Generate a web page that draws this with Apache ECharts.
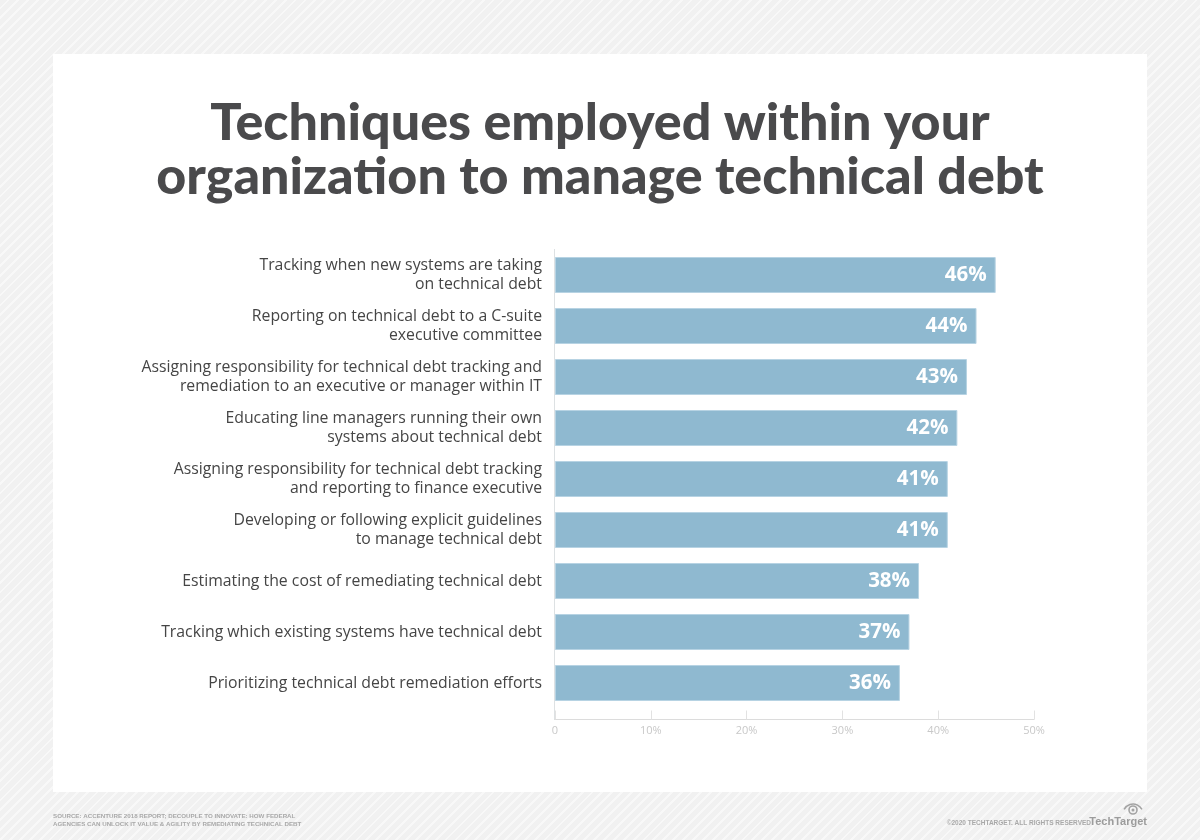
<!DOCTYPE html>
<html>
<head>
<meta charset="utf-8">
<title>Techniques employed within your organization to manage technical debt</title>
<script src="https://cdn.jsdelivr.net/npm/echarts@6/dist/echarts.min.js"></script>
<style>
  html, body { margin: 0; padding: 0; }
  body {
    width: 1200px; height: 840px; position: relative; overflow: hidden;
    background: repeating-linear-gradient(135deg, #f1f1f1 0 5px, #f8f8f8 5px 7px);
  }
  #card { position: absolute; left: 53px; top: 54px; width: 1094px; height: 738px; background: #fff; }
  #chart { position: absolute; left: 0; top: 0; width: 1200px; height: 840px; }
</style>
</head>
<body>
<div id="card"></div>
<div id="chart"></div>
<script>
// categories, top to bottom
var categories = [
  'Tracking when new systems are taking\non technical debt',
  'Reporting on technical debt to a C-suite\nexecutive committee',
  'Assigning responsibility for technical debt tracking and\nremediation to an executive or manager within IT',
  'Educating line managers running their own\nsystems about technical debt',
  'Assigning responsibility for technical debt tracking\nand reporting to finance executive',
  'Developing or following explicit guidelines\nto manage technical debt',
  'Estimating the cost of remediating technical debt',
  'Tracking which existing systems have technical debt',
  'Prioritizing technical debt remediation efforts'
];
var values = [46, 44, 43, 42, 41, 41, 38, 37, 36];
var tickLabels = ['0', '10%', '20%', '30%', '40%', '50%'];

var titleLines = ['Techniques employed within your', 'organization to manage technical debt'];
var sourceLines = [
  'SOURCE: ACCENTURE 2018 REPORT; DECOUPLE TO INNOVATE: HOW FEDERAL',
  'AGENCIES CAN UNLOCK IT VALUE & AGILITY BY REMEDIATING TECHNICAL DEBT'
];
var copyright = '\u00a92020 TECHTARGET. ALL RIGHTS RESERVED';

var chart = echarts.init(document.getElementById('chart'));

var option = {
  backgroundColor: 'transparent',
  animation: false,
  title: {
    text: titleLines.join('\n'),
    left: 'center',
    top: 91,
    textStyle: {
      fontFamily: 'Lato',
      fontWeight: 900,
      fontSize: 52,
      lineHeight: 54,
      color: '#4a4a4c'
    }
  },
  grid: { left: 555, top: 249.5, width: 479, height: 459, containLabel: false },
  xAxis: {
    type: 'value',
    min: 0,
    max: 50,
    interval: 10,
    offset: 11,
    axisLine: { show: true, lineStyle: { color: '#dcdcdc', width: 1 } },
    axisTick: { show: true, inside: true, length: 9, lineStyle: { color: '#e2e2e2' } },
    splitLine: { show: false },
    axisLabel: {
      margin: 6,
      fontFamily: 'Open Sans',
      fontSize: 11,
      color: '#c8c8c8',
      formatter: function (v) { return tickLabels[Math.round(v / 10)]; }
    }
  },
  yAxis: {
    type: 'category',
    data: categories,
    inverse: true,
    axisLine: { show: false },
    axisTick: { show: false },
    axisLabel: {
      margin: 13,
      align: 'right',
      fontFamily: 'Open Sans',
      fontSize: 15.8,
      lineHeight: 19,
      color: '#454545'
    }
  },
  series: [{
    type: 'bar',
    data: values,
    barWidth: 36,
    itemStyle: { color: '#8fb9d0', borderColor: '#b7d3e3', borderWidth: 1 },
    label: {
      show: true,
      position: 'insideRight',
      distance: 9,
      formatter: '{c}%',
      fontFamily: 'Open Sans',
      fontWeight: 'bold',
      fontSize: 20.5,
      color: '#ffffff'
    }
  }],
  graphic: [
    // vertical axis line running down to the offset x axis
    { type: 'line', shape: { x1: 554.5, y1: 249, x2: 554.5, y2: 720 }, style: { stroke: '#dde1e3', lineWidth: 1 }, silent: true },
    {
      type: 'text', left: 53, top: 812,
      style: { text: sourceLines.join('\n'), fontFamily: 'Liberation Sans', fontWeight: 'bold', fontSize: 6.2, lineHeight: 8, fill: '#a9a9a9' }
    },
    {
      type: 'text', right: 109, top: 820,
      style: { text: copyright, fontFamily: 'Liberation Sans', fontWeight: 'bold', fontSize: 6.5, fill: '#a9a9a9' }
    },
    {
      type: 'text', right: 53, top: 816,
      style: { text: 'TechTarget', fontFamily: 'Liberation Sans', fontWeight: 'bold', fontSize: 11, fill: '#9c9c9c' }
    },
    // eye logo
    { type: 'arc', shape: { cx: 1133, cy: 814, r: 10, startAngle: Math.PI * 1.15, endAngle: Math.PI * 1.85 }, style: { stroke: '#a3a3a3', lineWidth: 1.6, fill: null } },
    { type: 'circle', shape: { cx: 1133, cy: 810, r: 4 }, style: { stroke: '#a3a3a3', lineWidth: 1.6, fill: 'none' } },
    { type: 'circle', shape: { cx: 1133, cy: 810, r: 1.5 }, style: { fill: '#a3a3a3' } }
  ]
};

chart.setOption(option);
</script>
</body>
</html>
